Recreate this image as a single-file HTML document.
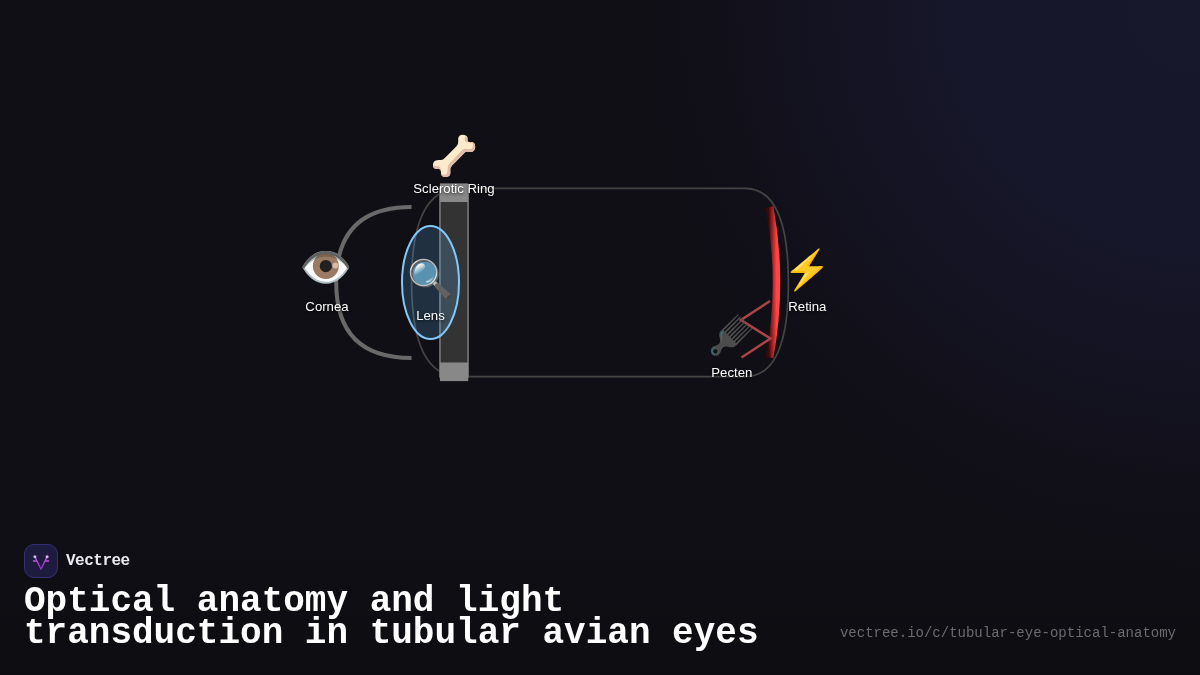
<!DOCTYPE html>
<html><head><meta charset="utf-8">
<title>Optical anatomy and light transduction in tubular avian eyes</title>
<style>
html,body{margin:0;padding:0;}
body{width:1200px;height:675px;overflow:hidden;position:relative;background:#100f15;font-family:"Liberation Sans",sans-serif;}
#wrap{position:absolute;left:0;top:0;width:1200px;height:675px;overflow:hidden;will-change:transform;transform:translateZ(0);
background:
 linear-gradient(to bottom, rgba(12,11,15,0) 0px, rgba(12,11,15,0) 500px, rgba(12,11,15,0.6) 675px),
 radial-gradient(circle at 1200px 0px, #18182d 0px, #17172b 235px, #141322 370px, #111019 490px, #100f15 580px);
}
#dia{position:absolute;left:0;top:0;width:1200px;height:675px;}
.lb{position:absolute;transform:translate(-50%,0);font-size:13.2px;line-height:15px;color:#fff;white-space:nowrap;text-shadow:0 1px 3px rgba(0,0,0,.85);}
#logo{position:absolute;left:24px;top:544px;width:32px;height:32px;border-radius:10px;background:#1e1c3e;border:1px solid #343076;}
#bname{position:absolute;left:66px;top:552px;line-height:18px;font-family:"Liberation Mono",monospace;font-weight:bold;font-size:16px;letter-spacing:-0.5px;color:#e9e9ee;white-space:nowrap;}
#title{position:absolute;left:24px;top:585.6px;font-family:"Liberation Mono",monospace;font-weight:bold;font-size:36px;line-height:32.4px;color:#fff;white-space:nowrap;}
#url{position:absolute;right:24px;top:625px;font-family:"Liberation Mono",monospace;font-size:14px;line-height:16px;color:#6b6b70;white-space:nowrap;}
.emo{font-family:"Noto Color Emoji","Liberation Sans",sans-serif;}
</style></head>
<body>
<div id="wrap">
<svg id="dia" width="1200" height="675" viewBox="0 0 1200 675">
<defs>
<linearGradient id="ret" gradientUnits="userSpaceOnUse" x1="768.6" y1="0" x2="776.6" y2="0">
<stop offset="0" stop-color="#400507"/><stop offset="1" stop-color="#ff4444"/>
</linearGradient>
</defs>
<!-- eye body outline -->
<path d="M 460 188.3 L 745 188.3 Q 788.4 188.3 788.4 282.5 Q 788.4 376.7 745 376.7 L 460 376.7 Q 411.6 376.7 411.6 282.5 Q 411.6 188.3 460 188.3 Z" fill="none" stroke="#444" stroke-width="1.7"/>
<!-- cornea -->
<path d="M 411.5 207 Q 336.2 207 336.2 282.5 Q 336.2 358 411.5 358" fill="none" stroke="#696969" stroke-width="4"/>
<!-- sclerotic ring -->
<rect x="440" y="188.3" width="28" height="188.4" fill="#333" stroke="#666" stroke-width="2"/>
<rect x="439.9" y="183.4" width="28.3" height="18.6" fill="#888"/>
<rect x="439.9" y="362.5" width="28.3" height="18.6" fill="#888"/>
<!-- lens -->
<ellipse cx="430.5" cy="282.5" rx="28.5" ry="56.5" fill="rgba(100,181,246,0.2)" stroke="#80c9fa" stroke-width="2"/>
<!-- retina -->
<path d="M 769.6 207 Q 783.4 282.2 769.6 357.5" fill="none" stroke="url(#ret)" stroke-width="7.6"/>
<!-- pecten -->
<path d="M 770 301 L 741 320 L 770.5 338.5 L 741.5 357.5" fill="none" stroke="#aa4447" stroke-width="2.5"/>
<text class="emo" transform="translate(478.475 169.213) scale(-1 1)" x="0" y="0" font-size="38.3" fill="#fff">🦴</text>
<text class="emo" x="299.828" y="282.192" font-size="42.9" fill="#fff">👁️</text>
<text class="emo" x="406.909" y="291.887" font-size="37.7" fill="#fff">🔍</text>
<text class="emo" x="783.614" y="282.543" font-size="38.6" fill="#fff">⚡</text>
<text class="emo" x="707.894" y="348.005" font-size="37.75" fill="#fff">🪮</text>
</svg>
<div class="lb" style="left:454px;top:181px;">Sclerotic Ring</div>
<div class="lb" style="left:327px;top:299.3px;">Cornea</div>
<div class="lb" style="left:430.5px;top:308px;">Lens</div>
<div class="lb" style="left:807.4px;top:299px;">Retina</div>
<div class="lb" style="left:731.8px;top:365px;">Pecten</div>
<div id="logo"></div>
<svg style="position:absolute;left:24px;top:544px" width="34" height="34" viewBox="24 544 34 34">
<defs><linearGradient id="lg" gradientUnits="userSpaceOnUse" x1="0" y1="556" x2="0" y2="570"><stop offset="0" stop-color="#cc55ee"/><stop offset="1" stop-color="#8e2fc0"/></linearGradient></defs>
<path d="M 34.9 556.8 L 41 569.3 L 47.1 556.8" fill="none" stroke="url(#lg)" stroke-width="1.35" stroke-linecap="round" stroke-linejoin="round"/>
<path d="M 32.9 560.9 H 37 M 45 560.9 H 49.1" fill="none" stroke="#c24fe6" stroke-width="1.5"/>
<circle cx="34.9" cy="556.7" r="1.5" fill="#ddb0f2"/><circle cx="47.1" cy="556.7" r="1.5" fill="#ddb0f2"/>
</svg>
<div id="bname">Vectree</div>
<div id="title">Optical anatomy and light<br>transduction in tubular avian eyes</div>
<div id="url">vectree.io/c/tubular-eye-optical-anatomy</div>
</div>
</body></html>
